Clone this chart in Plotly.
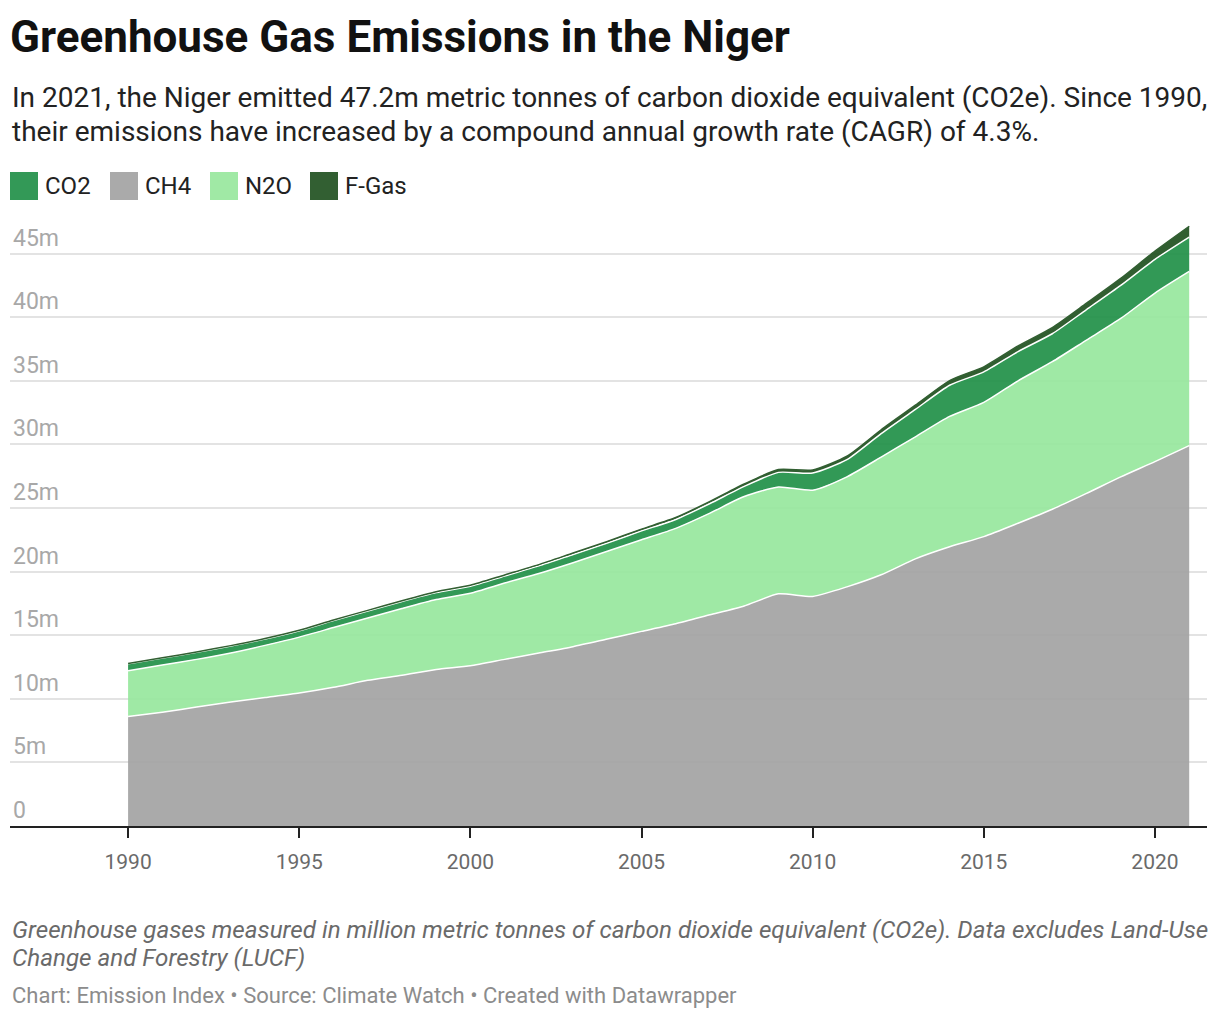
import plotly.graph_objects as go

YEARS = list(range(1990, 2022))
CH4 = [8.6, 8.95, 9.35, 9.75, 10.1, 10.45, 10.9, 11.45, 11.85, 12.3, 12.6, 13.1, 13.6, 14.1, 14.7, 15.3,
       15.9, 16.6, 17.3, 18.25, 18.05, 18.8, 19.75, 21.0, 21.95, 22.75, 23.8, 24.9, 26.15, 27.45, 28.65, 29.9]
N2O = [3.6, 3.7, 3.75, 3.85, 4.1, 4.4, 4.7, 4.9, 5.25, 5.5, 5.7, 6.0, 6.25, 6.6, 6.9, 7.2,
       7.5, 8.0, 8.6, 8.4, 8.35, 8.65, 9.25, 9.6, 10.25, 10.55, 11.2, 11.6, 12.05, 12.45, 13.25, 13.7]
CO2 = [0.55, 0.55, 0.55, 0.55, 0.5, 0.5, 0.55, 0.55, 0.55, 0.55, 0.55, 0.55, 0.6, 0.65, 0.65, 0.7,
       0.7, 0.75, 0.8, 1.15, 1.35, 1.35, 1.85, 2.15, 2.45, 2.4, 2.3, 2.2, 2.4, 2.6, 2.65, 2.7]
F_GAS = [0.02, 0.02, 0.03, 0.03, 0.04, 0.04, 0.05, 0.05, 0.06, 0.07, 0.08, 0.09, 0.1, 0.11, 0.12, 0.14,
         0.15, 0.17, 0.19, 0.22, 0.24, 0.27, 0.3, 0.33, 0.37, 0.4, 0.44, 0.48, 0.5, 0.55, 0.65, 0.85]

LEGEND_NAMES = ["CO2", "CH4", "N2O", "F-Gas"]
COLORS = {"CO2": "#339957", "CH4": "#aaaaaa", "N2O": "#a0e9a5", "F-Gas": "#325f32"}
FILLS = {"CO2": "rgba(28,142,68,0.9)", "CH4": "rgba(161,161,161,0.9)",
         "N2O": "rgba(149,231,155,0.9)", "F-Gas": "rgba(27,77,27,0.9)"}

Y_TICKS = [0, 5, 10, 15, 20, 25, 30, 35, 40, 45]
Y_TICK_TEXT = ["0", "5m", "10m", "15m", "20m", "25m", "30m", "35m", "40m", "45m"]
X_TICKS = [1990, 1995, 2000, 2005, 2010, 2015, 2020]

TITLE = "Greenhouse Gas Emissions in the Niger"
SUBTITLE = ["In 2021, the Niger emitted 47.2m metric tonnes of carbon dioxide equivalent (CO2e). Since 1990,",
            "their emissions have increased by a compound annual growth rate (CAGR) of 4.3%."]
NOTES = ["Greenhouse gases measured in million metric tonnes of carbon dioxide equivalent (CO2e). Data excludes Land-Use",
         "Change and Forestry (LUCF)"]
CREDIT = "Chart: Emission Index \u2022 Source: Climate Watch \u2022 Created with Datawrapper"

# page has an 8px body margin, so the figure is laid out in page coords minus 8
OFF = 8
W, H = 1204, 1004
L, R, T, B = 2, 5, 216, 186
PW, PH = W - L - R, H - T - B


def px(x):
    return (x - OFF - L) / PW


def py(y):
    return (H - B - (y - OFF)) / PH


fig = go.Figure()
stack = [("CH4", CH4, "white"), ("N2O", N2O, "white"), ("CO2", CO2, "white"), ("F-Gas", F_GAS, COLORS["F-Gas"])]
for name, vals, line_col in stack:
    fig.add_trace(go.Scatter(
        x=YEARS, y=vals, name=name, stackgroup="ghg", mode="lines",
        line=dict(color=line_col, width=1.5, shape="spline", smoothing=0.6),
        fillcolor=FILLS[name], showlegend=False,
    ))

annotations = [
    dict(text=SUBTITLE[0], x=px(10), y=py(97), font=dict(size=28, color="#222222")),
    dict(text=SUBTITLE[1], x=px(10), y=py(131), font=dict(size=28, color="#222222")),
    dict(text="<i>" + NOTES[0] + "</i>", x=px(10), y=py(930), font=dict(size=24.2, color="#6a6a6a")),
    dict(text="<i>" + NOTES[1] + "</i>", x=px(10), y=py(958), font=dict(size=24.2, color="#6a6a6a")),
    dict(text=CREDIT, x=px(10), y=py(995), font=dict(size=22, color="#8c8c8c")),
]

shapes = []
for i, name in enumerate(LEGEND_NAMES):
    x0 = 10 + i * 100
    shapes.append(dict(type="rect", xref="paper", yref="paper",
                       x0=px(x0), x1=px(x0 + 28), y0=py(200), y1=py(172),
                       fillcolor=COLORS[name], line=dict(width=0)))
    annotations.append(dict(text=name, x=px(x0 + 33), y=py(186),
                            font=dict(size=24, color="#222222")))

for a in annotations:
    a.update(xref="paper", yref="paper", xanchor="left", yanchor="middle", showarrow=False, align="left")

fig.update_layout(
    width=W, height=H,
    margin=dict(l=L, r=R, t=T, b=B),
    paper_bgcolor="white", plot_bgcolor="white",
    font=dict(family="Roboto", color="#222222"),
    title=dict(text="<b>" + TITLE + "</b>", x=(10 - OFF) / W, xanchor="left", xref="container",
               y=1 - (37 - OFF) / H, yanchor="middle", yref="container",
               font=dict(size=44, color="#111111")),
    annotations=annotations,
    shapes=shapes,
    xaxis=dict(range=[1986.55, 2021.52], tickvals=X_TICKS, ticks="outside", ticklen=10, tickwidth=2,
               tickcolor="#222222", showline=True, linecolor="#222222", linewidth=2, showgrid=False,
               zeroline=False, tickfont=dict(size=21, color="#6a6a6a"), ticklabelstandoff=6),
    yaxis=dict(range=[0, PH / 12.72], tickvals=Y_TICKS, ticktext=Y_TICK_TEXT, showgrid=True,
               gridcolor="#e3e3e3", gridwidth=2, zeroline=False, showline=False, ticks="",
               ticklabelposition="inside top", tickfont=dict(size=23, color="#a8a8a8")),
)

fig.write_html("out.html")
